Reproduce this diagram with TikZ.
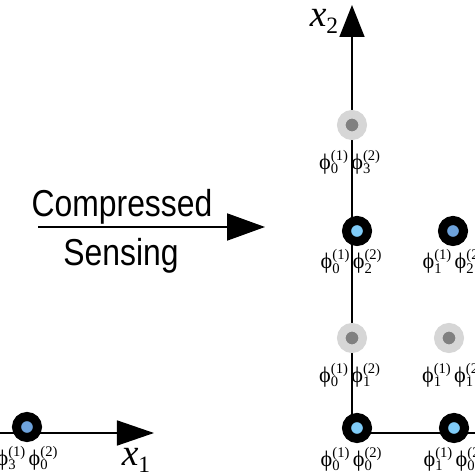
\documentclass[tikz,border=0pt]{standalone}
\usepackage{graphicx}
\usepackage{fontspec}
\setmainfont{Liberation Serif}
\newfontfamily\sensefont{Liberation Sans}
\usepackage{tikz}
\usetikzlibrary{positioning, arrows.meta}
\definecolor{ptblue}{HTML}{80CCF8}
\definecolor{ptdarkblue}{HTML}{6EA3DC}
\definecolor{ptgray}{HTML}{D6D6D6}
\definecolor{ptdarkgray}{HTML}{808080}
\newcommand{\squeeze}[1]{\scalebox{0.85}[1]{#1}}
\newcommand{\smallidx}{\fontsize{12.5}{13}\selectfont}
\newcommand{\coef}[2]{ϕ\rlap{\raisebox{-0.45ex}{\smallidx #2}}\raisebox{0.85ex}{\smallidx(#1)}}
\newcommand{\phipair}[2]{\coef{1}{#1}\hspace{0.15em}\coef{2}{#2}}
\newcommand{\axisname}[1]{\textit{x}\raisebox{-0.4ex}{\fontsize{20}{20}\selectfont #1}}
\tikzstyle{sample} = [circle,
inner sep=0pt,
minimum size=0.63cm,
line width=7.7pt,
draw=black,
fill=ptblue]
\tikzstyle{skipped} = [circle,
inner sep=0pt,
minimum size=0.645cm,
line width=7.25pt,
draw=ptgray,
fill=ptdarkgray]
\tikzstyle{coeff} = [inner sep=0pt, font=\fontsize{19}{21}\selectfont]
\tikzstyle{axislabel} = [inner sep=0pt, font=\fontsize{32}{36}\selectfont]
\tikzstyle{axis} = [line width=1.3pt]
\tikzstyle{arrow} = [line width=1.7pt, -{Triangle[length=1.14cm, width=0.81cm]}]

\begin{document}
\begin{tikzpicture}[x=0.03cm, y=0.03cm, node distance=0.15cm]
        \useasboundingbox (0,0) rectangle (474,474);
        % axes
        \coordinate (o1) at (0,41);
        \coordinate (e1) at (154,41);
        \coordinate (o2) at (352,41);
        \coordinate (e2) at (352,469);
        \coordinate (e3) at (480,41);
        \draw [axis, -{Triangle[length=1.11cm, width=0.75cm]}] (o1) -- (e1);
        \draw [axis, -{Triangle[length=0.96cm, width=0.75cm]}] (o2) -- (e2);
        \draw [axis] (o2) -- (e3);
        \node (x1) [axislabel] at (136,14) {\axisname{1}};
        \node (x2) [axislabel] at (324,453) {\axisname{2}};

        % compressed sensing arrow
        \coordinate (cs0) at (38,247);
        \coordinate (cs1) at (265,247);
        \draw [arrow] (cs0) -- (cs1);
        \node (comp) [anchor=base, font=\sensefont\fontsize{32}{38}\selectfont] at (122,257) {\squeeze{Compressed}};
        \node (sens) [anchor=base, font=\sensefont\fontsize{32}{38}\selectfont] at (121,208) {\squeeze{Sensing}};

        % samples before
        \node (p30) [sample, fill=ptdarkblue] at (27,47) {};
        \node (l30) [coeff, below=0.12cm of p30] {\phipair{3}{0}};

        % samples after
        \node (p03) [skipped] at (352,349) {};
        \node (p02) [sample] at (357,243) {};
        \node (p12) [sample, fill=ptdarkblue] at (453,243) {};
        \node (p01) [skipped] at (352,136) {};
        \node (p11) [skipped] at (449,136) {};
        \node (p00) [sample] at (357,46) {};
        \node (p10) [sample] at (454,46) {};

        \node (l03) [coeff, below=0.3cm of p03, xshift=-2pt] {\phipair{0}{3}};
        \node (l02) [coeff, below=0.1cm of p02, xshift=-5pt] {\phipair{0}{2}};
        \node (l12) [coeff, below=0.1cm of p12] {\phipair{1}{2}};
        \node (l01) [coeff, below=0.3cm of p01, xshift=-2pt] {\phipair{0}{1}};
        \node (l11) [coeff, below=0.3cm of p11, xshift=3pt] {\phipair{1}{1}};
        \node (l00) [coeff, below=0.12cm of p00, xshift=-5pt] {\phipair{0}{0}};
        \node (l10) [coeff, below=0.12cm of p10] {\phipair{1}{0}};
    \end{tikzpicture}
\end{document}
